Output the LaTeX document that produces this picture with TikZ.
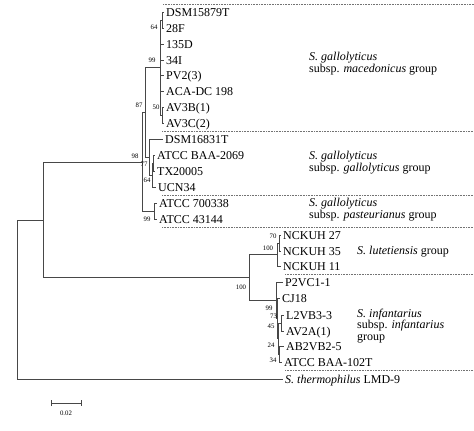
\documentclass[tikz,border=0pt]{standalone}
\usepackage{fontspec}
\setmainfont{Liberation Serif}
\usetikzlibrary{arrows.meta}
\begin{document}
\begin{tikzpicture}[x=1pt,y=-1pt,
  br/.style={draw=black!72, line width=0.85pt},
  lf/.style={anchor=base west, inner sep=0pt, font=\fontsize{12}{12}\selectfont},
  bs/.style={inner sep=0pt, font=\fontsize{6.8}{6.8}\selectfont},
  grp/.style={anchor=west, align=left, inner sep=0pt, font=\fontsize{12}{10.5}\selectfont},
  sepline/.style={draw=black!55, line width=0.6pt, dash pattern=on 0.7pt off 0.9pt}]
\path[use as bounding box, fill=white] (0,0) rectangle (474,431);

% internal nodes
\coordinate (R) at (17,300);
\coordinate (A) at (43,220);
\coordinate (N98) at (142,162);
\coordinate (N87) at (145,112);
\coordinate (M) at (160,67);
\coordinate (N64a) at (162,20);
\coordinate (N50) at (162,115);
\coordinate (G) at (149,157);
\coordinate (N64b) at (152,175);
\coordinate (NX) at (153,163);
\coordinate (P) at (154,211);
\coordinate (NL) at (249,277);
\coordinate (LU) at (277,254.5);
\coordinate (N70) at (279,243);
\coordinate (IN) at (276,300);
\coordinate (N99) at (277,318);
\coordinate (N45) at (278,338.5);
\coordinate (N73) at (281,323);
\coordinate (N24) at (279,354);

% leaf tips
\coordinate (t1) at (164,12);
\coordinate (t2) at (164,28);
\coordinate (t3) at (164,44);
\coordinate (t4) at (164,60);
\coordinate (t5) at (164,75);
\coordinate (t6) at (164,91);
\coordinate (t7) at (164,107);
\coordinate (t8) at (164,123);
\coordinate (t9) at (163,139);
\coordinate (t10) at (155,155);
\coordinate (t11) at (155,171);
\coordinate (t12) at (156,187);
\coordinate (t13) at (157,203);
\coordinate (t14) at (157,219);
\coordinate (t15) at (281,235);
\coordinate (t16) at (281,251);
\coordinate (t17) at (281,266);
\coordinate (t18) at (283,282);
\coordinate (t19) at (280,298);
\coordinate (t20) at (284,315);
\coordinate (t21) at (284,331);
\coordinate (t22) at (284,346);
\coordinate (t23) at (282,362);
\coordinate (t24) at (283,379);

% branches
\foreach \p/\c in {R/A, R/t24, A/N98, A/NL, N98/N87, N98/P, N87/M, N87/G,
  M/N64a, M/t3, M/t4, M/t5, M/t6, M/N50, N64a/t1, N64a/t2, N50/t7, N50/t8,
  G/t9, G/N64b, N64b/NX, N64b/t12, NX/t10, NX/t11, P/t13, P/t14,
  NL/LU, NL/IN, LU/N70, LU/t17, N70/t15, N70/t16,
  IN/t18, IN/N99, N99/t19, N99/N45, N45/N73, N45/N24, N73/t20, N73/t21, N24/t22, N24/t23}
  \draw[br] (\p) |- (\c);

% leaf labels
\foreach \t/\txt in {t1/DSM15879T, t2/28F, t3/135D, t4/34I, t5/PV2(3), t6/ACA-DC 198,
  t7/AV3B(1), t8/AV3C(2), t9/DSM16831T, t10/ATCC BAA-2069, t11/TX20005, t12/UCN34,
  t13/ATCC 700338, t14/ATCC 43144, t15/NCKUH 27, t16/NCKUH 35, t17/NCKUH 11,
  t18/P2VC1-1, t19/CJ18, t20/L2VB3-3, t21/AV2A(1), t22/AB2VB2-5, t23/ATCC BAA-102T}
  \path (\t) ++(2,4.2) node[lf] (L\t) {\txt};
\path (t24) ++(2,4.2) node[lf] (Lt24) {\textit{S. thermophilus} LMD-9};

% bootstrap values
\node[bs] (b1) at (154,27) {64};
\node[bs] (b2) at (152,60) {99};
\node[bs] (b3) at (156,107) {50};
\node[bs] (b4) at (139,105) {87};
\node[bs] (b5) at (135,156) {98};
\node[bs] (b6) at (144,164) {77};
\node[bs] (b7) at (147,180) {64};
\node[bs] (b8) at (147,219) {99};
\node[bs] (b9) at (273,236) {70};
\node[bs] (b10) at (268,248) {100};
\node[bs] (b11) at (241,287) {100};
\node[bs] (b12) at (269,308.5) {99};
\node[bs] (b13) at (273.5,316) {73};
\node[bs] (b14) at (271,326) {45};
\node[bs] (b15) at (271,345) {24};
\node[bs] (b16) at (273,360) {34};

% group separators
\foreach \i/\xa/\yy in {1/163/4, 2/162/131, 3/162/195, 4/162/227, 5/285/274, 6/285/370} {
  \coordinate (s\i a) at (\xa,\yy);
  \coordinate (s\i b) at (474,\yy);
  \draw[sepline] (s\i a) -- (s\i b);
}

% group labels
\node[grp] (g1) at (309,63.5) {\textit{S. gallolyticus}\\subsp. \textit{macedonicus} group};
\node[grp] (g2) at (309,162.5) {\textit{S. gallolyticus}\\subsp. \textit{gallolyticus} group};
\node[grp] (g3) at (309,209.5) {\textit{S. gallolyticus}\\subsp. \textit{pasteurianus} group};
\node[grp] (g4) at (357,252) {\textit{S. lutetiensis} group};
\node[grp, font=\fontsize{12}{11.5}\selectfont] (g5) at (357,326) {\textit{S. infantarius}\\subsp. \textit{infantarius}\\group};

% scale bar
\coordinate (sb1) at (51,403);
\coordinate (sb2) at (82,403);
\draw[br, {Bar[width=6pt]}-{Bar[width=6pt]}] (sb1) -- (sb2);
\node[bs] (sbl) at (66,413) {0.02};
\end{tikzpicture}
\end{document}
